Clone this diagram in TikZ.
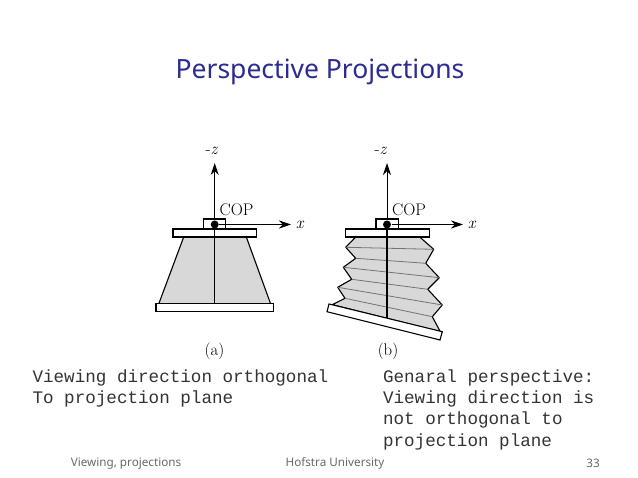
\documentclass[tikz,border=0pt]{standalone}
\usepackage{fontspec}
\setsansfont{Noto Sans}
\setmonofont{Liberation Mono}
\usetikzlibrary{arrows.meta}
\definecolor{titleblue}{RGB}{43,43,145}
\definecolor{footgray}{RGB}{105,105,105}
\definecolor{fillgray}{RGB}{216,216,216}
\begin{document}
\begin{tikzpicture}
    [x=1pt,y=-1pt,line width=1.1pt,
    every node/.style={inner sep=0pt},
    axis/.style={-{Stealth[length=12pt,width=8pt]},line width=1pt},
    plate/.style={draw,fill=white,line width=1.1pt},
    fold/.style={draw=black!55,line width=0.8pt},
    cop/.style={circle,fill=black,minimum size=8pt},
    serif/.style={font=\fontsize{16.8}{20}\selectfont\addfontfeature{FakeBold=0.4}},
    mono/.style={font=\ttfamily\fontsize{17.6}{21.3}\selectfont,align=left,anchor=north west,text=black!80},
    foot/.style={font=\sffamily\fontsize{11.7}{14}\selectfont,text=footgray}]
    \useasboundingbox (0,0) rectangle (638,478);

    \node[font=\sffamily\fontsize{26.5}{30}\selectfont,text=titleblue] (title) at (320,72) {Perspective Projections};

    % left figure
    \filldraw[fill=fillgray] (183.7,237) -- (158.7,304) -- (270.7,304) -- (246.3,237) -- cycle;
    \draw[plate] (156,303.7) rectangle (273.3,311.7);
    \draw (203.3,229) rectangle (225.7,219);
    \draw[plate] (173,229) rectangle (256.7,237);
    \node[cop] (copa) at (214.7,224.5) {};
    \coordinate (basea) at (214.7,304);
    \coordinate (za) at (214.7,163);
    \coordinate (xa) at (291,224.5);
    \draw (copa) -- (basea);
    \draw[axis] (copa) -- (za);
    \draw[axis] (copa) -- (xa);
    \node[serif] (copla) at (236.5,210) {COP};
    \node[serif] (zla) at (212,151) {-\textit{z}};
    \node[serif] (xla) at (300,225) {\textit{x}};
    \node[serif] (capa) at (214.5,351) {(a)};

    % right figure
    \filldraw[fill=fillgray,line join=round] (355.7,237) -- (345.7,247.3) -- (355.7,258.3) -- (343.3,267.3)
      -- (351.7,279.3) -- (337.7,287.3) -- (345,298.3) -- (332.3,304.7) -- (440.3,331.7)
      -- (432.3,316.7) -- (442.3,305) -- (427.7,289.3) -- (439.3,277.7) -- (425.7,263.3)
      -- (433.7,249.3) -- (419.7,237) -- cycle;
    \draw[fold] (345.7,247.3) -- (433.7,249.3);
    \draw[fold] (355.7,258.3) -- (425.7,263.3);
    \draw[fold] (343.3,267.3) -- (439.3,277.7);
    \draw[fold] (351.7,279.3) -- (427.7,289.3);
    \draw[fold] (337.7,287.3) -- (442.3,305);
    \draw[fold] (345,298.3) -- (432.3,316.7);
    \draw[plate] (329,304) -- (327,311.7) -- (440,340) -- (442.3,331.7) -- cycle;
    \draw (376,229) rectangle (398.3,219);
    \draw[plate] (345.7,229) rectangle (429.3,237);
    \node[cop] (copb) at (387,224.5) {};
    \coordinate (baseb) at (387,318);
    \coordinate (zb) at (387,163);
    \coordinate (xb) at (463,224.5);
    \draw (copb) -- (baseb);
    \draw[axis] (copb) -- (zb);
    \draw[axis] (copb) -- (xb);
    \node[serif] (coplb) at (409,210) {COP};
    \node[serif] (zlb) at (381,151) {-\textit{z}};
    \node[serif] (xlb) at (472,225) {\textit{x}};
    \node[serif] (capb) at (388,351) {(b)};

    % captions
    \node[mono] (texta) at (32,369) {Viewing direction orthogonal\\To projection plane};
    \node[mono] (textb) at (382.5,369) {Genaral perspective:\\Viewing direction is\\not orthogonal to\\projection plane};

    \node[foot] (footl) at (126,463.5) {Viewing, projections};
    \node[foot] (footc) at (335,463.5) {Hofstra University};
    \node[foot] (footr) at (593,463.5) {33};
  \end{tikzpicture}
\end{document}
